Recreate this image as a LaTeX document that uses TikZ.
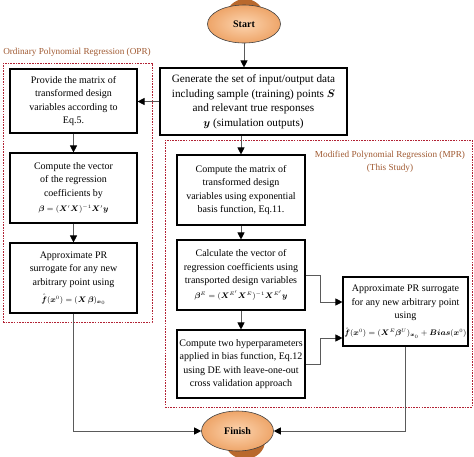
\documentclass[tikz,border=0pt]{standalone}
\usepackage{amsmath}
\usepackage{fontspec}
\setmainfont{Liberation Serif}
\usetikzlibrary{arrows.meta,shapes.geometric,calc}
\definecolor{regc}{RGB}{178,34,52}
\definecolor{lblc}{RGB}{160,90,50}
\definecolor{ovin}{RGB}{252,212,175}
\definecolor{ovout}{RGB}{238,165,105}
\definecolor{shadc}{RGB}{185,105,45}
\definecolor{linec}{RGB}{90,90,90}
\newcommand{\bsy}[1]{\boldsymbol{#1}}
\newcommand{\fml}[1]{{\fontsize{7.6}{9}\selectfont$#1$}}
\begin{document}
\begin{tikzpicture}[x=1pt,y=-1pt,
  region/.style={draw=regc, line width=0.6pt, dash pattern=on 1.6pt off 1.1pt, inner sep=0pt},
  lbl/.style={text=lblc, inner sep=0pt, align=center, font=\fontsize{9.2}{13}\selectfont},
  box/.style={draw=black, line width=1.1pt, fill=white, align=center, inner sep=0pt, font=\fontsize{10}{13.5}\selectfont},
  oval/.style={ellipse, draw=black!75, line width=0.6pt, inner color=ovin, outer color=ovout, inner sep=0pt, font=\bfseries\fontsize{10}{12}\selectfont},
  conn/.style={draw=linec, line width=0.7pt, -{Triangle[length=7pt,width=7pt,color=black]}}]
\useasboundingbox (0,0) rectangle (474,456);
% regions
\node[region, minimum width=149, minimum height=259] (oprreg) at (77.5,192.5) {};
\node[region, minimum width=307, minimum height=267] (mprreg) at (318.5,273.5) {};
\node[lbl] (oprlbl) at (77,52) {Ordinary Polynomial Regression (OPR)};
\node[lbl] (mprlbl) at (390,161.5) {Modified Polynomial Regression (MPR)\\(This Study)};
% start / finish shadows
\fill[shadc] (245,17) ellipse [x radius=19, y radius=18];
\fill[shadc] (245,441) ellipse [x radius=20, y radius=18];
\node[oval, minimum width=73, minimum height=38] (start) at (244,24) {Start};
\node[oval, minimum width=72, minimum height=40] (finish) at (237.5,431) {Finish};
% main boxes
\node[box, minimum width=187, minimum height=67, font=\fontsize{11.2}{14.5}\selectfont] (gen) at (253.5,101.5)
  {Generate the set of input/output data\\including sample (training) points $\bsy{S}$\\and relevant true responses\\$\bsy{y}$ (simulation outputs)};
\node[box, minimum width=127, minimum height=64] (b1) at (73.5,101)
  {Provide the matrix of\\transformed design\\variables according to\\Eq.5.};
\node[box, minimum width=127, minimum height=70] (b2) at (73.5,188)
  {Compute the vector\\of the regression\\coefficients by\\[1.5pt]\fml{\bsy{\beta} = (\bsy{X}'\bsy{X})^{-1}\bsy{X}'\bsy{y}}};
\node[box, minimum width=127, minimum height=70] (b3) at (73.5,278)
  {Approximate PR\\surrogate for any new\\arbitrary point using\\[3.5pt]\fml{\hat{\bsy{f}}(\bsy{x}^0) = (\bsy{X}\,\bsy{\beta})_{\bsy{x}_0}}};
\node[box, minimum width=128, minimum height=70] (m1) at (241,190)
  {Compute the matrix of\\transformed design\\variables using exponential\\basis function, Eq.11.};
\node[box, minimum width=128, minimum height=70] (m2) at (241,275)
  {Calculate the vector of\\regression coefficients using\\transported design variables\\[1.5pt]\fml{\bsy{\beta}^E = (\bsy{X}^{E'}\bsy{X}^E)^{-1}\bsy{X}^{E'}\bsy{y}}};
\node[box, minimum width=128, minimum height=68] (m3) at (241,364)
  {Compute two hyperparameters\\applied in bias function, Eq.12\\using DE with leave-one-out\\cross validation approach};
\node[box, minimum width=125, minimum height=69] (m4) at (405.5,311.5)
  {Approximate PR surrogate\\for any new arbitrary point\\using\\[3.5pt]\fml{\hat{\bsy{f}}(\bsy{x}^0) = (\bsy{X}^E\bsy{\beta}^U)_{\bsy{x}_0} + \bsy{Bias}(\bsy{x}^0)}};
\coordinate (m4in1) at ($(m4.west)+(0,-9.5)$);
\coordinate (m4in2) at ($(m4.west)+(0,26.5)$);
% connectors
\draw[conn] (start.south) -- (start.south |- gen.north);
\draw[conn] (gen.west) -- (gen.west -| b1.east);
\draw[conn] (b1.south) -- (b2.north);
\draw[conn] (b2.south) -- (b3.north);
\draw[conn] (m1.north |- gen.south) -- (m1.north);
\draw[conn] (m1.south) -- (m2.north);
\draw[conn] (m2.south) -- (m3.north);
\draw[conn] (m2.east) -- ++(15,0) |- (m4in1);
\draw[conn] (m3.east) -- ++(15,0) |- (m4in2);
\draw[conn] (m4.south) |- (finish.east);
\draw[conn] (b3.south) |- (finish.west);
\end{tikzpicture}
\end{document}
